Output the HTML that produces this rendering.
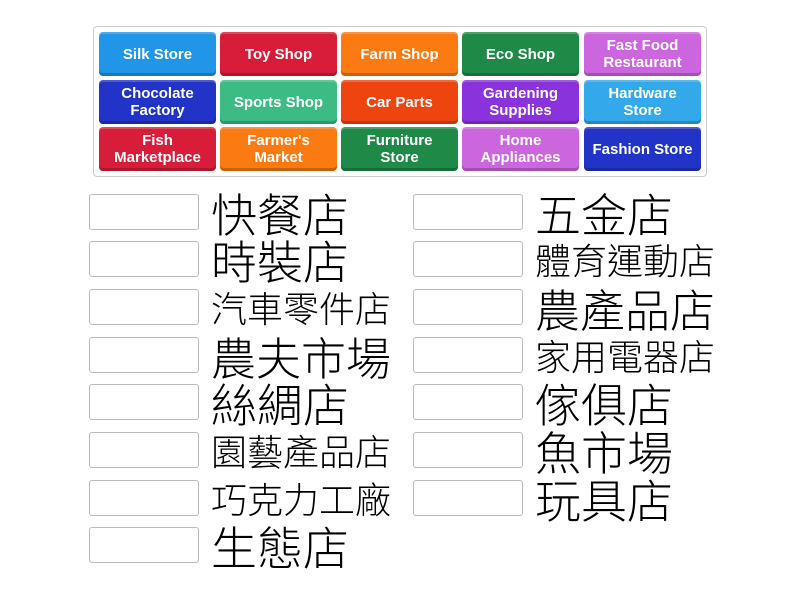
<!DOCTYPE html>
<html><head><meta charset="utf-8"><style>
body{margin:0;width:800px;height:600px;background:#fff;position:relative;overflow:hidden;font-family:"Liberation Sans","Noto Sans CJK TC",sans-serif}
.c{position:absolute;left:93px;top:26px;width:612px;height:149px;border:1px solid #ccc;border-radius:4px;background:#fff}
.t{position:absolute;width:117px;height:44px;border-radius:4px;color:#fff;font-weight:bold;font-size:15px;line-height:17px;display:flex;align-items:center;justify-content:center;text-align:center;box-shadow:inset 0 -3px 0 rgba(0,0,0,.2),inset 0 2px 0 rgba(255,255,255,.2)}
.b{position:absolute;width:108px;height:34px;border:1px solid #bbb;border-radius:3px;background:#fff}
.w{position:absolute;font-family:"Noto Sans CJK TC","WenQuanYi Zen Hei",sans-serif;font-weight:300;color:#000;white-space:nowrap;line-height:1}
</style></head><body>
<div class="c"></div>
<div class="t" style="left:99px;top:32px;background:#2196e8">Silk Store</div>
<div class="t" style="left:220px;top:32px;background:#d71d3a">Toy Shop</div>
<div class="t" style="left:341px;top:32px;background:#fb7a12">Farm Shop</div>
<div class="t" style="left:462px;top:32px;background:#1f8a48">Eco Shop</div>
<div class="t" style="left:584px;top:32px;background:#cc66de">Fast Food<br>Restaurant</div>
<div class="t" style="left:99px;top:80px;background:#2233c8">Chocolate<br>Factory</div>
<div class="t" style="left:220px;top:80px;background:#3dbb84">Sports Shop</div>
<div class="t" style="left:341px;top:80px;background:#ee4410">Car Parts</div>
<div class="t" style="left:462px;top:80px;background:#8a33dc">Gardening<br>Supplies</div>
<div class="t" style="left:584px;top:80px;background:#33a8ea">Hardware<br>Store</div>
<div class="t" style="left:99px;top:127px;background:#d71d3a">Fish<br>Marketplace</div>
<div class="t" style="left:220px;top:127px;background:#fb7a12">Farmer's<br>Market</div>
<div class="t" style="left:341px;top:127px;background:#1f8a48">Furniture<br>Store</div>
<div class="t" style="left:462px;top:127px;background:#cc66de">Home<br>Appliances</div>
<div class="t" style="left:584px;top:127px;background:#2233c8">Fashion Store</div>

<div class="b" style="left:89px;top:194px"></div><div class="w" style="left:211px;top:190px;font-size:46px">快餐店</div>
<div class="b" style="left:89px;top:241px"></div><div class="w" style="left:211px;top:237px;font-size:46px">時裝店</div>
<div class="b" style="left:89px;top:289px"></div><div class="w" style="left:211px;top:289px;font-size:36px">汽車零件店</div>
<div class="b" style="left:89px;top:337px"></div><div class="w" style="left:211px;top:333px;font-size:45px">農夫市場</div>
<div class="b" style="left:89px;top:384px"></div><div class="w" style="left:211px;top:380px;font-size:46px">絲綢店</div>
<div class="b" style="left:89px;top:432px"></div><div class="w" style="left:211px;top:432px;font-size:36px">園藝產品店</div>
<div class="b" style="left:89px;top:480px"></div><div class="w" style="left:211px;top:480px;font-size:36px">巧克力工廠</div>
<div class="b" style="left:89px;top:527px"></div><div class="w" style="left:211px;top:523px;font-size:46px">生態店</div>

<div class="b" style="left:413px;top:194px"></div><div class="w" style="left:535px;top:190px;font-size:46px">五金店</div>
<div class="b" style="left:413px;top:241px"></div><div class="w" style="left:535px;top:241px;font-size:36px">體育運動店</div>
<div class="b" style="left:413px;top:289px"></div><div class="w" style="left:535px;top:285px;font-size:45px">農產品店</div>
<div class="b" style="left:413px;top:337px"></div><div class="w" style="left:535px;top:337px;font-size:36px">家用電器店</div>
<div class="b" style="left:413px;top:384px"></div><div class="w" style="left:535px;top:380px;font-size:46px">傢俱店</div>
<div class="b" style="left:413px;top:432px"></div><div class="w" style="left:535px;top:428px;font-size:46px">魚市場</div>
<div class="b" style="left:413px;top:480px"></div><div class="w" style="left:535px;top:476px;font-size:46px">玩具店</div>
</body></html>
